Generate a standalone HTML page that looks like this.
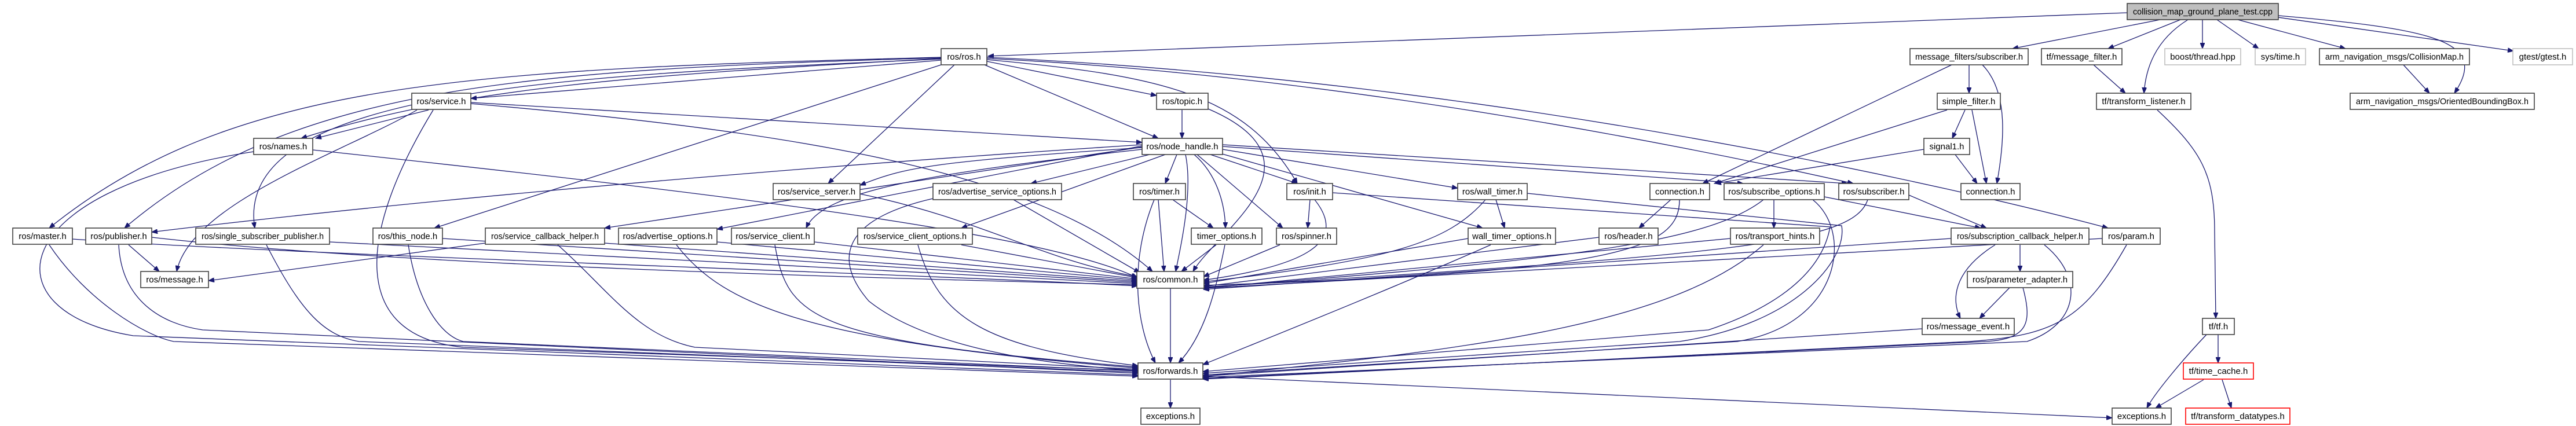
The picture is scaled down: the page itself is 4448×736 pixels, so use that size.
<!DOCTYPE html>
<html><head><meta charset="utf-8"><style>
html,body{margin:0;padding:0;background:#fff;}
svg{display:block;}
text{font-family:"Liberation Sans",sans-serif;font-size:15px;fill:#000;}
.e{fill:none;stroke:#191970;stroke-width:1.3;marker-end:url(#a);}
.n{fill:#fff;stroke:#404040;stroke-width:1.6;}
.g{fill:#fff;stroke:#c0c0c0;stroke-width:1.6;}
.r{fill:#fff;stroke:#ff0000;stroke-width:1.6;}
.c{fill:#bfbfbf;stroke:#404040;stroke-width:1.6;}
</style></head><body>
<svg width="4448" height="736" viewBox="0 0 4448 736" xmlns="http://www.w3.org/2000/svg">
<defs><marker id="a" markerUnits="userSpaceOnUse" markerWidth="11" markerHeight="8" refX="10" refY="4" orient="auto"><path d="M0,0 L10,4 L0,8 z" fill="#191970" stroke="#191970"/></marker></defs>
<g>
<path class="e" d="M3673,22 L1706,97"/>
<path class="e" d="M3730,34 L3475,84"/>
<path class="e" d="M3765,34 L3640,84"/>
<path class="e" d="M3778,34 C3720,70 3705,120 3702,161"/>
<path class="e" d="M3803,34 L3803,84"/>
<path class="e" d="M3828,34 L3900,84"/>
<path class="e" d="M3864,34 L4050,84"/>
<path class="e" d="M3934,30 L4340,88"/>
<path class="e" d="M3934,27 C4200,50 4300,70 4238,161"/>
<path class="e" d="M4150,112 L4195,161"/>
<path class="e" d="M3615,112 L3670,161"/>
<path class="e" d="M3725,190 C3800,260 3824,300 3824,400 L3826,550"/>
<path class="e" d="M3810,578 C3770,620 3720,680 3707,705"/>
<path class="e" d="M3830,578 L3830,627"/>
<path class="e" d="M3805,656 L3722,705"/>
<path class="e" d="M3837,656 L3853,705"/>
<path class="e" d="M2021,656 L2021,705"/>
<path class="e" d="M2077,650 L3647,722"/>
<path class="e" d="M3400,112 L3400,161"/>
<path class="e" d="M3423,112 C3470,160 3460,250 3448,317"/>
<path class="e" d="M3370,112 L2940,317"/>
<path class="e" d="M3393,190 L3371,239"/>
<path class="e" d="M3405,190 L3430,317"/>
<path class="e" d="M3362,190 L2960,317"/>
<path class="e" d="M3322,258 L2962,317"/>
<path class="e" d="M3376,267 L3414,317"/>
<path class="e" d="M1625,104 L813,170"/>
<path class="e" d="M1625,101 C1100,130 800,150 520,239"/>
<path class="e" d="M1625,99 C800,120 400,140 85,394"/>
<path class="e" d="M1625,100 C900,120 500,150 215,394"/>
<path class="e" d="M1625,102 C1000,130 400,150 440,394"/>
<path class="e" d="M1625,112 L750,394"/>
<path class="e" d="M1648,112 L1430,317"/>
<path class="e" d="M1700,112 L2000,239"/>
<path class="e" d="M1704,106 L1997,165"/>
<path class="e" d="M1704,103 C2000,130 2150,160 2240,317"/>
<path class="e" d="M1704,101 C2300,130 2900,250 3200,317"/>
<path class="e" d="M1704,99 C2600,140 3400,330 3640,394"/>
<path class="e" d="M740,190 L545,239"/>
<path class="e" d="M720,190 C600,260 330,350 305,469"/>
<path class="e" d="M813,177 L1972,246"/>
<path class="e" d="M813,179 C1400,230 1800,300 1990,469"/>
<path class="e" d="M748,190 C620,400 600,580 800,600 L1965,640"/>
<path class="e" d="M438,262 C0,330 -20,540 230,580 L1965,648"/>
<path class="e" d="M540,259 C1200,330 1800,400 1964,480"/>
<path class="e" d="M2041,190 L2041,239"/>
<path class="e" d="M2086,188 C2300,280 2100,400 2060,469"/>
<path class="e" d="M1972,255 C1600,280 1560,290 1485,320"/>
<path class="e" d="M1985,267 L1780,317"/>
<path class="e" d="M2032,267 L2012,317"/>
<path class="e" d="M2047,267 C2060,330 2040,420 2030,469"/>
<path class="e" d="M2062,267 C2100,300 2115,350 2116,394"/>
<path class="e" d="M2067,267 L2215,394"/>
<path class="e" d="M2090,267 L2240,317"/>
<path class="e" d="M2111,258 L2517,325"/>
<path class="e" d="M2100,263 L2560,394"/>
<path class="e" d="M2111,253 L3010,317"/>
<path class="e" d="M2111,250 L3190,317"/>
<path class="e" d="M1972,252 L1238,396"/>
<path class="e" d="M1972,258 C1600,300 1420,330 1392,394"/>
<path class="e" d="M2012,267 L1660,394"/>
<path class="e" d="M1972,250 C1200,300 600,360 262,401"/>
<path class="e" d="M1972,254 L1044,394"/>
<path class="e" d="M1485,335 C1700,380 1800,450 1964,478"/>
<path class="e" d="M1750,345 L1968,471"/>
<path class="e" d="M1611,343 C1450,380 1440,450 1500,520 C1600,600 1800,630 1965,640"/>
<path class="e" d="M2025,345 L2095,394"/>
<path class="e" d="M2000,345 L2010,469"/>
<path class="e" d="M1993,345 C1950,450 1960,560 1995,627"/>
<path class="e" d="M2100,423 L2040,469"/>
<path class="e" d="M2115,423 C2100,500 2080,580 2035,627"/>
<path class="e" d="M2210,423 L2078,478"/>
<path class="e" d="M2262,345 L2258,394"/>
<path class="e" d="M2270,345 C2330,420 2250,460 2078,484"/>
<path class="e" d="M2301,333 L3160,392 C3150,450 3100,520 2950,570 L2077,642"/>
<path class="e" d="M2583,345 L2598,394"/>
<path class="e" d="M2565,345 C2500,420 2400,450 2078,487"/>
<path class="e" d="M2637,334 L3180,390 C3190,450 3100,560 2900,590 L2077,645"/>
<path class="e" d="M2535,412 L2078,490"/>
<path class="e" d="M2574,423 C2400,500 2200,580 2077,630"/>
<path class="e" d="M2885,345 L2830,394"/>
<path class="e" d="M2900,345 C2900,430 2800,470 2078,493"/>
<path class="e" d="M2761,410 L2078,495"/>
<path class="e" d="M3063,345 L3063,394"/>
<path class="e" d="M3045,345 C2950,420 2700,450 2078,497"/>
<path class="e" d="M3130,345 C3200,400 3180,560 3000,590 L2077,648"/>
<path class="e" d="M3150,340 L3420,394"/>
<path class="e" d="M2988,412 L2078,498"/>
<path class="e" d="M3045,423 C2900,550 2600,600 2077,650"/>
<path class="e" d="M3225,345 C3200,420 3000,440 2078,496"/>
<path class="e" d="M3296,337 L3430,394"/>
<path class="e" d="M3488,423 L3488,469"/>
<path class="e" d="M3445,423 C3370,470 3370,520 3385,550"/>
<path class="e" d="M3530,423 C3600,480 3590,560 3500,590 L2077,652"/>
<path class="e" d="M3369,412 L2078,500"/>
<path class="e" d="M3470,497 L3418,550"/>
<path class="e" d="M3493,497 C3510,560 3500,585 3430,590 L2077,654"/>
<path class="e" d="M3319,568 L2077,650"/>
<path class="e" d="M3630,412 L2078,498"/>
<path class="e" d="M3672,423 C3600,550 3550,580 3400,590 L2077,655"/>
<path class="e" d="M125,413 C500,440 1500,470 1964,494"/>
<path class="e" d="M85,423 C150,520 250,580 300,590 L1965,650"/>
<path class="e" d="M222,423 L275,469"/>
<path class="e" d="M262,410 C700,460 1500,480 1964,492"/>
<path class="e" d="M205,423 C210,520 280,560 350,570 L1965,645"/>
<path class="e" d="M569,418 L1964,490"/>
<path class="e" d="M460,423 C520,540 560,580 620,590 L1965,643"/>
<path class="e" d="M764,412 L1964,488"/>
<path class="e" d="M705,423 C720,520 760,580 800,590 L1965,641"/>
<path class="e" d="M838,420 L360,485"/>
<path class="e" d="M1044,420 L1964,486"/>
<path class="e" d="M963,423 C1050,500 1100,580 1200,600 L1965,638"/>
<path class="e" d="M1238,418 L1964,484"/>
<path class="e" d="M1168,423 C1250,530 1400,590 1965,636"/>
<path class="e" d="M1406,418 L1964,482"/>
<path class="e" d="M1338,423 C1360,550 1400,590 1965,634"/>
<path class="e" d="M1660,423 L1964,480"/>
<path class="e" d="M1585,423 C1620,550 1700,600 1965,632"/>
<path class="e" d="M2021,498 L2021,627"/>
</g>
<g>
<rect class="c" x="3673" y="6" width="261" height="28"/><text x="3803.5" y="25" text-anchor="middle" textLength="241" lengthAdjust="spacingAndGlyphs">collision_map_ground_plane_test.cpp</text>
<rect class="n" x="1625" y="84" width="79" height="28"/><text x="1664.5" y="103" text-anchor="middle">ros/ros.h</text>
<rect class="n" x="3298" y="84" width="204" height="28"/><text x="3400" y="103" text-anchor="middle" textLength="186" lengthAdjust="spacingAndGlyphs">message_filters/subscriber.h</text>
<rect class="n" x="3525" y="84" width="139" height="28"/><text x="3594.5" y="103" text-anchor="middle">tf/message_filter.h</text>
<rect class="g" x="3738" y="84" width="131" height="28"/><text x="3803.5" y="103" text-anchor="middle">boost/thread.hpp</text>
<rect class="g" x="3894" y="84" width="87" height="28"/><text x="3937.5" y="103" text-anchor="middle">sys/time.h</text>
<rect class="n" x="4005" y="84" width="259" height="28"/><text x="4134.5" y="103" text-anchor="middle" textLength="239" lengthAdjust="spacingAndGlyphs">arm_navigation_msgs/CollisionMap.h</text>
<rect class="g" x="4339" y="84" width="103" height="28"/><text x="4390.5" y="103" text-anchor="middle">gtest/gtest.h</text>
<rect class="n" x="711" y="161" width="102" height="28"/><text x="762" y="180" text-anchor="middle">ros/service.h</text>
<rect class="n" x="1997" y="161" width="89" height="28"/><text x="2041.5" y="180" text-anchor="middle">ros/topic.h</text>
<rect class="n" x="3345" y="161" width="109" height="28"/><text x="3399.5" y="180" text-anchor="middle">simple_filter.h</text>
<rect class="n" x="3620" y="161" width="163" height="28"/><text x="3701.5" y="180" text-anchor="middle">tf/transform_listener.h</text>
<rect class="n" x="4058" y="161" width="318" height="28"/><text x="4217" y="180" text-anchor="middle" textLength="298" lengthAdjust="spacingAndGlyphs">arm_navigation_msgs/OrientedBoundingBox.h</text>
<rect class="n" x="438" y="239" width="102" height="28"/><text x="489" y="258" text-anchor="middle">ros/names.h</text>
<rect class="n" x="1972" y="239" width="139" height="28"/><text x="2041.5" y="258" text-anchor="middle">ros/node_handle.h</text>
<rect class="n" x="3322" y="239" width="79" height="28"/><text x="3361.5" y="258" text-anchor="middle">signal1.h</text>
<rect class="n" x="1335" y="317" width="150" height="28"/><text x="1410" y="336" text-anchor="middle">ros/service_server.h</text>
<rect class="n" x="1611" y="317" width="222" height="28"/><text x="1722" y="336" text-anchor="middle" textLength="204" lengthAdjust="spacingAndGlyphs">ros/advertise_service_options.h</text>
<rect class="n" x="1957" y="317" width="90" height="28"/><text x="2002" y="336" text-anchor="middle">ros/timer.h</text>
<rect class="n" x="2222" y="317" width="79" height="28"/><text x="2261.5" y="336" text-anchor="middle">ros/init.h</text>
<rect class="n" x="2517" y="317" width="120" height="28"/><text x="2577" y="336" text-anchor="middle">ros/wall_timer.h</text>
<rect class="n" x="2849" y="317" width="103" height="28"/><text x="2900.5" y="336" text-anchor="middle">connection.h</text>
<rect class="n" x="2977" y="317" width="173" height="28"/><text x="3063.5" y="336" text-anchor="middle">ros/subscribe_options.h</text>
<rect class="n" x="3175" y="317" width="121" height="28"/><text x="3235.5" y="336" text-anchor="middle">ros/subscriber.h</text>
<rect class="n" x="3386" y="317" width="102" height="28"/><text x="3437" y="336" text-anchor="middle">connection.h</text>
<rect class="n" x="22" y="394" width="103" height="28"/><text x="73.5" y="413" text-anchor="middle">ros/master.h</text>
<rect class="n" x="148" y="394" width="114" height="28"/><text x="205" y="413" text-anchor="middle">ros/publisher.h</text>
<rect class="n" x="338" y="394" width="231" height="28"/><text x="453.5" y="413" text-anchor="middle" textLength="211" lengthAdjust="spacingAndGlyphs">ros/single_subscriber_publisher.h</text>
<rect class="n" x="644" y="394" width="120" height="28"/><text x="704" y="413" text-anchor="middle">ros/this_node.h</text>
<rect class="n" x="838" y="394" width="206" height="28"/><text x="941" y="413" text-anchor="middle" textLength="186" lengthAdjust="spacingAndGlyphs">ros/service_callback_helper.h</text>
<rect class="n" x="1068" y="394" width="170" height="28"/><text x="1153" y="413" text-anchor="middle">ros/advertise_options.h</text>
<rect class="n" x="1263" y="394" width="143" height="28"/><text x="1334.5" y="413" text-anchor="middle">ros/service_client.h</text>
<rect class="n" x="1481" y="394" width="198" height="28"/><text x="1580" y="413" text-anchor="middle" textLength="178" lengthAdjust="spacingAndGlyphs">ros/service_client_options.h</text>
<rect class="n" x="2057" y="394" width="122" height="28"/><text x="2118" y="413" text-anchor="middle">timer_options.h</text>
<rect class="n" x="2204" y="394" width="104" height="28"/><text x="2256" y="413" text-anchor="middle">ros/spinner.h</text>
<rect class="n" x="2535" y="394" width="151" height="28"/><text x="2610.5" y="413" text-anchor="middle">wall_timer_options.h</text>
<rect class="n" x="2761" y="394" width="102" height="28"/><text x="2812" y="413" text-anchor="middle">ros/header.h</text>
<rect class="n" x="2988" y="394" width="154" height="28"/><text x="3065" y="413" text-anchor="middle">ros/transport_hints.h</text>
<rect class="n" x="3369" y="394" width="238" height="28"/><text x="3488" y="413" text-anchor="middle" textLength="218" lengthAdjust="spacingAndGlyphs">ros/subscription_callback_helper.h</text>
<rect class="n" x="3630" y="394" width="100" height="28"/><text x="3680" y="413" text-anchor="middle">ros/param.h</text>
<rect class="n" x="243" y="469" width="117" height="28"/><text x="301.5" y="488" text-anchor="middle">ros/message.h</text>
<rect class="n" x="1963" y="469" width="116" height="29"/><text x="2021" y="488" text-anchor="middle">ros/common.h</text>
<rect class="n" x="3397" y="469" width="182" height="28"/><text x="3488" y="488" text-anchor="middle">ros/parameter_adapter.h</text>
<rect class="n" x="3319" y="550" width="159" height="28"/><text x="3398.5" y="569" text-anchor="middle">ros/message_event.h</text>
<rect class="n" x="3803" y="550" width="55" height="28"/><text x="3830.5" y="569" text-anchor="middle">tf/tf.h</text>
<rect class="n" x="1965" y="627" width="112" height="28"/><text x="2021" y="646" text-anchor="middle">ros/forwards.h</text>
<rect class="r" x="3770" y="627" width="121" height="28"/><text x="3830.5" y="646" text-anchor="middle">tf/time_cache.h</text>
<rect class="n" x="1970" y="705" width="102" height="28"/><text x="2021" y="724" text-anchor="middle">exceptions.h</text>
<rect class="n" x="3647" y="705" width="102" height="28"/><text x="3698" y="724" text-anchor="middle">exceptions.h</text>
<rect class="r" x="3774" y="705" width="180" height="28"/><text x="3864" y="724" text-anchor="middle">tf/transform_datatypes.h</text>
</g>
</svg>
</body></html>
